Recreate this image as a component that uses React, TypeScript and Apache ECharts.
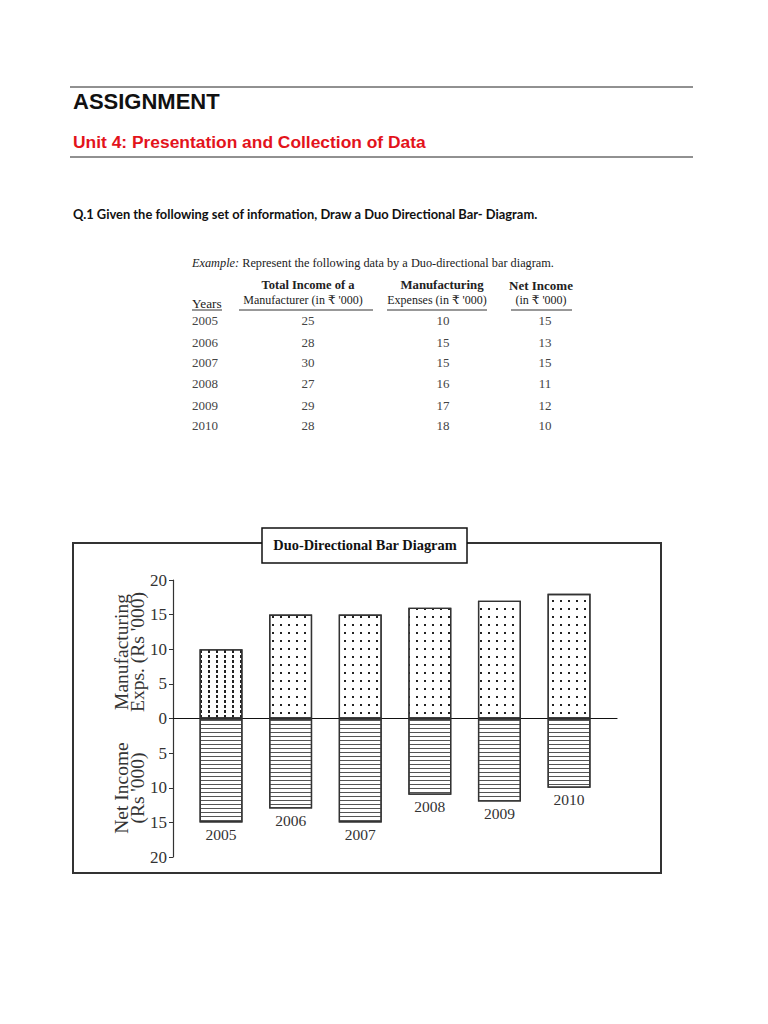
import React, { useEffect, useRef } from "react";
import * as echarts from "echarts";

const years = ["2005", "2006", "2007", "2008", "2009", "2010"];
const totalIncome = [25, 28, 30, 27, 29, 28];
const mfgExpenses = [10, 15, 15, 16, 17, 18];
const netIncome = [15, 13, 15, 11, 12, 10];

const SERIF = '"Liberation Serif", "DejaVu Serif", serif';
const SANS = '"Liberation Sans", Arial, sans-serif';

export default function App() {
  const ref = useRef<HTMLDivElement>(null);
  useEffect(() => {
    if (!ref.current) return;
    const chart = echarts.init(ref.current, null, { renderer: "svg" });

    const graphics: any[] = [
      { type: "line", shape: { x1: 70, y1: 87, x2: 693, y2: 87 }, style: { stroke: "#222", lineWidth: 1 } },
      { type: "text", x: 73, y: 101, style: { text: "ASSIGNMENT", font: `bold 22px ${SANS}`, fill: "#111", verticalAlign: "middle" } },
      { type: "text", x: 73, y: 142, style: { text: "Unit 4: Presentation and Collection of Data", font: `bold 17.4px ${SANS}`, fill: "#e3131b", verticalAlign: "middle" } },
      { type: "line", shape: { x1: 70, y1: 157, x2: 693, y2: 157 }, style: { stroke: "#222", lineWidth: 1 } },
      { type: "text", x: 73, y: 214, style: { text: "Q.1 Given the following set of information, Draw a Duo Directional Bar- Diagram.", font: `bold 12.9px Lato, "Open Sans", sans-serif`, fill: "#111", verticalAlign: "middle" } },
      // table
      { type: "text", x: 192, y: 263, style: { text: "{i|Example:} Represent the following data by a Duo-directional bar diagram.", font: `12.3px ${SERIF}`, fill: "#222", verticalAlign: "middle", rich: { i: { fontStyle: "italic", fontSize: 12.3, fontFamily: SERIF, fill: "#222" } } } },
      { type: "text", x: 192, y: 303, style: { text: "Years", font: `13.3px ${SERIF}`, fill: "#222", verticalAlign: "middle" } },
      { type: "line", shape: { x1: 192, y1: 310, x2: 222, y2: 310 }, style: { stroke: "#333", lineWidth: 1 } },
      { type: "text", x: 308, y: 285, style: { text: "Total Income of a", font: `600 12.5px ${SERIF}`, fill: "#222", align: "center", verticalAlign: "middle" } },
      { type: "text", x: 303, y: 300, style: { text: "Manufacturer (in ₹ '000)", font: `12px ${SERIF}`, fill: "#222", align: "center", verticalAlign: "middle" } },
      { type: "line", shape: { x1: 239, y1: 310, x2: 373, y2: 310 }, style: { stroke: "#333", lineWidth: 1 } },
      { type: "text", x: 442, y: 285, style: { text: "Manufacturing", font: `600 12.8px ${SERIF}`, fill: "#222", align: "center", verticalAlign: "middle" } },
      { type: "text", x: 437, y: 300, style: { text: "Expenses (in ₹ '000)", font: `12px ${SERIF}`, fill: "#222", align: "center", verticalAlign: "middle" } },
      { type: "line", shape: { x1: 387, y1: 310, x2: 487, y2: 310 }, style: { stroke: "#333", lineWidth: 1 } },
      { type: "text", x: 541, y: 285, style: { text: "Net Income", font: `600 13px ${SERIF}`, fill: "#222", align: "center", verticalAlign: "middle" } },
      { type: "text", x: 541, y: 300, style: { text: "(in ₹ '000)", font: `12px ${SERIF}`, fill: "#222", align: "center", verticalAlign: "middle" } },
      { type: "line", shape: { x1: 511, y1: 310, x2: 572, y2: 310 }, style: { stroke: "#333", lineWidth: 1 } },
      // chart frame
      { type: "rect", shape: { x: 73, y: 543, width: 588, height: 330 }, style: { fill: "none", stroke: "#333", lineWidth: 2 } },
      { type: "rect", shape: { x: 262, y: 528, width: 205, height: 35 }, style: { fill: "#fff", stroke: "#111", lineWidth: 1.5 } },
      { type: "text", x: 365, y: 545, style: { text: "Duo-Directional Bar Diagram", font: `600 14.4px ${SERIF}`, fill: "#111", align: "center", verticalAlign: "middle" } },
      { type: "text", x: 129, y: 652, rotation: Math.PI / 2, style: { text: "Manufacturing\nExps. (Rs '000)", font: `19.5px ${SERIF}`, lineHeight: 16, fill: "#333", align: "center", verticalAlign: "middle" } },
      { type: "text", x: 129, y: 788, rotation: Math.PI / 2, style: { text: "Net Income\n(Rs '000)", font: `19.5px ${SERIF}`, lineHeight: 16, fill: "#333", align: "center", verticalAlign: "middle" } },
    ];
    const rowY = [320, 342, 362, 383, 405, 425];
    years.forEach((y, i) => {
      graphics.push({ type: "text", x: 192, y: rowY[i], style: { text: y, font: `13px ${SERIF}`, fill: "#444", verticalAlign: "middle" } });
      graphics.push({ type: "text", x: 308, y: rowY[i], style: { text: String(totalIncome[i]), font: `13px ${SERIF}`, fill: "#444", align: "center", verticalAlign: "middle" } });
      graphics.push({ type: "text", x: 443, y: rowY[i], style: { text: String(mfgExpenses[i]), font: `13px ${SERIF}`, fill: "#444", align: "center", verticalAlign: "middle" } });
      graphics.push({ type: "text", x: 545, y: rowY[i], style: { text: String(netIncome[i]), font: `13px ${SERIF}`, fill: "#444", align: "center", verticalAlign: "middle" } });
    });

    const dotDecal = { symbol: "rect", color: "#222", dashArrayX: [1.2, 5.8], dashArrayY: [2, 6], symbolSize: 1 };
    const dashDecal = { symbol: "rect", color: "#222", dashArrayX: [1.2, 5.8], dashArrayY: [3, 2], symbolSize: 1 };
    const stripeDecal = { symbol: "rect", color: "#555", dashArrayX: [1, 0], dashArrayY: [1, 3], symbolSize: 1 };

    chart.setOption({
      animation: false,
      backgroundColor: "#fff",
      grid: { left: 173, right: 151, top: 580, bottom: 167 },
      xAxis: {
        type: "value",
        min: -0.69,
        max: 5.689,
        axisLine: { show: true, onZero: true, lineStyle: { color: "#111", width: 1.2 } },
        axisTick: { show: false },
        axisLabel: { show: false },
        splitLine: { show: false },
      },
      yAxis: {
        type: "value",
        min: -20,
        max: 20,
        interval: 5,
        axisLine: { show: true, onZero: false, lineStyle: { color: "#333", width: 1.2 } },
        axisTick: { show: true, length: 4, lineStyle: { color: "#333" } },
        axisLabel: { formatter: (v: number) => String(Math.abs(v)), color: "#333", fontSize: 17, fontFamily: SERIF, margin: 6 },
        splitLine: { show: false },
      },
      series: [
        {
          type: "bar",
          name: "Manufacturing Exps.",
          barWidth: 43,
          barGap: "-100%",
          data: mfgExpenses.map((v, i) => ({
            value: [i, v],
            itemStyle: { decal: i === 0 ? dashDecal : dotDecal },
          })),
          itemStyle: { color: "#fff", borderColor: "#333", borderWidth: 1.3 },
        },
        {
          type: "bar",
          name: "Net Income",
          barWidth: 43,
          barGap: "-100%",
          data: netIncome.map((v, i) => [i, -v]),
          itemStyle: { color: "#fff", borderColor: "#333", borderWidth: 1.3, decal: stripeDecal },
          label: {
            show: true,
            position: "bottom",
            distance: 4,
            formatter: (p: any) => years[p.dataIndex],
            color: "#333",
            fontSize: 15.5,
            fontFamily: SERIF,
          },
        },
      ],
      graphic: graphics,
    });
    return () => chart.dispose();
  }, []);
  return <div ref={ref} style={{ position: "absolute", left: 0, top: 0, width: 768, height: 1024 }} />;
}
